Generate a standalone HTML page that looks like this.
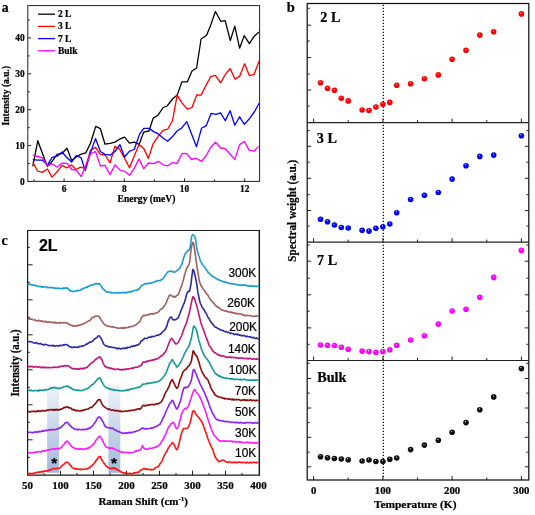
<!DOCTYPE html><html><head><meta charset="utf-8"><style>html,body{margin:0;padding:0;background:#fff;width:535px;height:515px;overflow:hidden}svg{display:block}svg text{stroke:#000;stroke-width:0.22px}</style></head><body>
<svg width="535" height="515" viewBox="0 0 535 515">
<rect width="535" height="515" fill="#fff"/>
<defs>
<radialGradient id="gr" cx="0.5" cy="0.5" r="0.6" fx="0.4" fy="0.3"><stop offset="0" stop-color="#ffffff"/><stop offset="0.28" stop-color="#ff0000"/><stop offset="0.7" stop-color="#ff0000"/><stop offset="1" stop-color="#c80000"/></radialGradient>
<radialGradient id="gb" cx="0.5" cy="0.5" r="0.6" fx="0.4" fy="0.3"><stop offset="0" stop-color="#ffffff"/><stop offset="0.28" stop-color="#0000ff"/><stop offset="0.7" stop-color="#0000ff"/><stop offset="1" stop-color="#0000b0"/></radialGradient>
<radialGradient id="gm" cx="0.5" cy="0.5" r="0.6" fx="0.4" fy="0.3"><stop offset="0" stop-color="#ffffff"/><stop offset="0.28" stop-color="#ff00ff"/><stop offset="0.7" stop-color="#ff00ff"/><stop offset="1" stop-color="#c000c0"/></radialGradient>
<radialGradient id="gk" cx="0.5" cy="0.5" r="0.6" fx="0.4" fy="0.3"><stop offset="0" stop-color="#ffffff"/><stop offset="0.28" stop-color="#101010"/><stop offset="0.7" stop-color="#101010"/><stop offset="1" stop-color="#000000"/></radialGradient>
<linearGradient id="band" x1="0" y1="0" x2="0" y2="1"><stop offset="0" stop-color="#eef3fa"/><stop offset="0.45" stop-color="#ccd8eb"/><stop offset="1" stop-color="#a2b7d9"/></linearGradient>
</defs>
<g fill="none" stroke-linejoin="round">
<polyline points="32.8,166.4 37.8,140.7 42.5,153.5 47.4,166.6 52.0,161.4 57.1,154.4 62.0,153.5 67.0,148.3 71.6,160.2 76.0,157.3 80.6,154.4 85.8,152.9 90.5,143.3 95.7,126.4 100.4,128.7 105.0,144.2 110.0,143.3 115.0,142.1 119.6,139.2 124.6,137.2 129.5,143.1 134.2,142.1 139.1,144.4 143.7,132.1 149.0,131.0 153.1,118.4 157.8,115.3 163.2,107.5 167.1,106.0 172.5,99.0 177.2,95.1 181.9,81.9 187.3,81.9 192.0,71.0 196.6,68.0 201.1,39.0 206.6,35.2 210.6,25.4 215.4,11.5 220.8,21.3 225.2,20.6 230.3,40.6 234.8,26.1 239.6,48.2 244.2,35.6 249.4,43.7 254.1,36.3 259.1,31.9" stroke="#000" stroke-width="1.3"/>
<polyline points="32.8,162.2 37.5,171.0 42.1,172.4 47.4,169.0 52.0,177.1 57.1,171.8 62.0,165.4 67.0,167.8 71.6,164.9 76.0,169.5 80.6,167.2 85.2,168.7 90.5,150.3 95.5,147.4 100.4,154.4 105.0,155.0 110.0,162.9 115.0,146.2 119.6,149.1 124.6,158.4 129.5,167.8 134.2,156.1 139.1,144.4 143.7,148.4 148.4,158.4 153.1,143.8 158.3,136.2 163.0,130.4 167.6,129.2 172.5,120.7 177.2,95.1 181.9,102.9 187.3,109.1 192.0,107.5 196.8,94.8 201.1,95.1 205.9,85.6 210.6,76.7 215.4,75.4 220.6,82.9 225.2,74.7 230.1,68.6 235.1,79.2 239.8,76.1 244.6,63.8 249.4,75.7 254.1,74.3 259.1,61.1" stroke="#ff0000" stroke-width="1.3"/>
<polyline points="32.8,159.6 37.5,160.2 42.7,160.2 47.4,165.4 52.0,157.3 57.1,156.2 62.0,152.0 66.6,157.3 71.6,162.0 76.5,155.5 81.2,157.9 85.2,170.7 90.5,152.6 95.5,138.6 100.4,151.5 105.0,154.4 110.0,155.2 115.0,151.5 120.0,144.7 124.6,157.0 129.5,151.2 134.2,149.5 139.7,133.9 143.7,128.4 149.0,128.4 153.6,131.6 158.3,133.9 163.0,138.0 167.6,141.2 172.3,136.8 177.0,131.0 181.6,128.1 186.8,121.7 190.8,132.0 196.5,146.7 201.5,128.3 206.3,125.6 211.1,113.4 215.8,114.3 220.6,113.0 225.3,120.6 230.1,110.7 234.8,125.2 239.6,116.8 244.3,124.3 249.8,118.2 254.6,111.5 259.1,103.2" stroke="#0000ff" stroke-width="1.3"/>
<polyline points="32.8,155.2 37.5,156.5 42.7,157.9 47.4,166.0 52.0,163.7 57.1,167.2 62.0,163.1 67.0,163.3 71.6,169.5 76.0,170.1 81.2,176.5 85.5,166.0 90.5,153.8 95.5,151.5 100.4,166.0 105.0,165.4 110.0,174.8 115.0,164.9 120.0,170.1 124.6,171.3 129.5,175.3 134.2,168.4 139.1,158.9 143.7,168.8 148.4,163.0 153.6,163.6 158.3,161.3 163.0,164.8 167.6,165.9 172.3,162.4 177.0,163.6 182.2,153.3 186.8,153.7 191.5,159.5 196.1,158.2 201.5,161.4 206.3,155.5 210.4,147.8 215.5,142.3 220.6,148.0 225.3,148.7 230.1,154.2 234.8,159.6 239.6,144.6 244.3,141.5 249.1,150.1 253.9,151.2 258.6,146.4" stroke="#ff00ff" stroke-width="1.3"/>
</g>
<rect x="27.8" y="5.6" width="231.8" height="175.8" fill="none" stroke="#222" stroke-width="1"/>
<path d="M27.8 181.5h3.3M27.8 163.6h2.0M27.8 145.6h3.3M27.8 127.7h2.0M27.8 109.7h3.3M27.8 91.8h2.0M27.8 73.8h3.3M27.8 55.9h2.0M27.8 37.9h3.3M27.8 20.0h2.0M34.0 181.4v-2.0M64.1 181.4v-3.0M94.2 181.4v-2.0M124.3 181.4v-3.0M154.4 181.4v-2.0M184.5 181.4v-3.0M214.6 181.4v-2.0M244.7 181.4v-3.0" stroke="#222" stroke-width="1" fill="none"/>
<line x1="38.1" x2="55" y1="14.2" y2="14.2" stroke="#000" stroke-width="1.3"/>
<text x="57.9" y="17.2" font-family="'Liberation Serif','Times New Roman',serif" font-weight="bold" font-size="9.5" fill="#000">2 L</text>
<line x1="38.1" x2="55" y1="26.4" y2="26.4" stroke="#ff0000" stroke-width="1.3"/>
<text x="57.9" y="29.4" font-family="'Liberation Serif','Times New Roman',serif" font-weight="bold" font-size="9.5" fill="#000">3 L</text>
<line x1="38.1" x2="55" y1="38.6" y2="38.6" stroke="#0000ff" stroke-width="1.3"/>
<text x="57.9" y="41.6" font-family="'Liberation Serif','Times New Roman',serif" font-weight="bold" font-size="9.5" fill="#000">7 L</text>
<line x1="38.1" x2="55" y1="50.8" y2="50.8" stroke="#ff00ff" stroke-width="1.3"/>
<text x="57.9" y="53.8" font-family="'Liberation Serif','Times New Roman',serif" font-weight="bold" font-size="9.5" fill="#000">Bulk</text>
<text x="24.6" y="184.6" text-anchor="end" font-family="'Liberation Serif','Times New Roman',serif" font-weight="bold" font-size="9.4">0</text>
<text x="24.6" y="148.7" text-anchor="end" font-family="'Liberation Serif','Times New Roman',serif" font-weight="bold" font-size="9.4">10</text>
<text x="24.6" y="112.8" text-anchor="end" font-family="'Liberation Serif','Times New Roman',serif" font-weight="bold" font-size="9.4">20</text>
<text x="24.6" y="76.9" text-anchor="end" font-family="'Liberation Serif','Times New Roman',serif" font-weight="bold" font-size="9.4">30</text>
<text x="24.6" y="41.0" text-anchor="end" font-family="'Liberation Serif','Times New Roman',serif" font-weight="bold" font-size="9.4">40</text>
<text x="64.1" y="191.6" text-anchor="middle" font-family="'Liberation Serif','Times New Roman',serif" font-weight="bold" font-size="9.4">6</text>
<text x="124.3" y="191.6" text-anchor="middle" font-family="'Liberation Serif','Times New Roman',serif" font-weight="bold" font-size="9.4">8</text>
<text x="184.5" y="191.6" text-anchor="middle" font-family="'Liberation Serif','Times New Roman',serif" font-weight="bold" font-size="9.4">10</text>
<text x="244.7" y="191.6" text-anchor="middle" font-family="'Liberation Serif','Times New Roman',serif" font-weight="bold" font-size="9.4">12</text>
<text x="146.5" y="202.2" text-anchor="middle" font-family="'Liberation Serif','Times New Roman',serif" font-weight="bold" font-size="9.6">Energy (meV)</text>
<text transform="translate(8.9,95.7) rotate(-90)" x="-29.8" textLength="59.6" lengthAdjust="spacingAndGlyphs" font-family="'Liberation Serif','Times New Roman',serif" font-weight="bold" font-size="10.1">Intensity (a.u.)</text>
<text transform="translate(1.7,11.6) scale(0.98,1.11)" font-family="'Liberation Serif','Times New Roman',serif" font-weight="bold" font-size="14">a</text>
<line x1="383.3" x2="383.3" y1="4.8" y2="479" stroke="#000" stroke-width="1.2" stroke-dasharray="1.2 1.8"/>
<path d="M307.2 8.3h2.5M307.2 25.2h4.0M307.2 41.0h2.5M307.2 57.5h4.0M307.2 74.0h2.5M307.2 90.0h4.0M307.2 106.0h2.5M313.6 122.6v-4.0M348.2 122.6v-2.5M382.9 122.6v-4.0M417.5 122.6v-2.5M452.1 122.6v-4.0M486.8 122.6v-2.5M521.4 122.6v-4.0M307.2 130.6h2.5M528.8 130.6h-2.5M307.2 146.3h4.0M528.8 146.3h-4.0M307.2 162.2h2.5M528.8 162.2h-2.5M307.2 178.3h4.0M528.8 178.3h-4.0M307.2 194.7h2.5M528.8 194.7h-2.5M307.2 210.6h4.0M528.8 210.6h-4.0M307.2 226.0h2.5M528.8 226.0h-2.5M313.6 242.1v-4.0M348.2 242.1v-2.5M382.9 242.1v-4.0M417.5 242.1v-2.5M452.1 242.1v-4.0M486.8 242.1v-2.5M521.4 242.1v-4.0M307.2 245.0h2.5M528.8 245.0h-2.5M307.2 261.2h4.0M528.8 261.2h-4.0M307.2 278.2h2.5M528.8 278.2h-2.5M307.2 294.8h4.0M528.8 294.8h-4.0M307.2 311.2h2.5M528.8 311.2h-2.5M307.2 327.9h4.0M528.8 327.9h-4.0M307.2 344.3h2.5M528.8 344.3h-2.5M313.6 360.5v-4.0M348.2 360.5v-2.5M382.9 360.5v-4.0M417.5 360.5v-2.5M452.1 360.5v-4.0M486.8 360.5v-2.5M521.4 360.5v-4.0M307.2 363.3h2.5M528.8 363.3h-2.5M307.2 378.5h4.0M528.8 378.5h-4.0M307.2 393.1h2.5M528.8 393.1h-2.5M307.2 408.0h4.0M528.8 408.0h-4.0M307.2 422.6h2.5M528.8 422.6h-2.5M307.2 437.3h4.0M528.8 437.3h-4.0M307.2 452.2h2.5M528.8 452.2h-2.5M307.2 466.8h4.0M528.8 466.8h-4.0M313.6 480.0v-4.0M348.2 480.0v-2.5M382.9 480.0v-4.0M417.5 480.0v-2.5M452.1 480.0v-4.0M486.8 480.0v-2.5M521.4 480.0v-4.0" stroke="#222" stroke-width="1" fill="none"/>
<rect x="307.2" y="3.5" width="221.6" height="476.5" fill="none" stroke="#111" stroke-width="1.25"/>
<line x1="307.2" x2="528.8" y1="122.6" y2="122.6" stroke="#222" stroke-width="1.05"/>
<line x1="307.2" x2="528.8" y1="242.1" y2="242.1" stroke="#222" stroke-width="1.05"/>
<line x1="307.2" x2="528.8" y1="360.5" y2="360.5" stroke="#222" stroke-width="1.05"/>
<circle cx="320.5" cy="82.8" r="2.8" fill="url(#gr)"/>
<circle cx="327.5" cy="88.3" r="2.8" fill="url(#gr)"/>
<circle cx="334.4" cy="90.3" r="2.8" fill="url(#gr)"/>
<circle cx="341.3" cy="98.2" r="2.8" fill="url(#gr)"/>
<circle cx="348.2" cy="100.9" r="2.8" fill="url(#gr)"/>
<circle cx="362.1" cy="110.0" r="2.8" fill="url(#gr)"/>
<circle cx="369.0" cy="110.5" r="2.8" fill="url(#gr)"/>
<circle cx="375.9" cy="107.0" r="2.8" fill="url(#gr)"/>
<circle cx="382.9" cy="104.2" r="2.8" fill="url(#gr)"/>
<circle cx="389.8" cy="102.4" r="2.8" fill="url(#gr)"/>
<circle cx="396.7" cy="85.3" r="2.8" fill="url(#gr)"/>
<circle cx="410.6" cy="83.8" r="2.8" fill="url(#gr)"/>
<circle cx="424.4" cy="78.7" r="2.8" fill="url(#gr)"/>
<circle cx="438.3" cy="74.9" r="2.8" fill="url(#gr)"/>
<circle cx="452.1" cy="59.3" r="2.8" fill="url(#gr)"/>
<circle cx="466.0" cy="50.2" r="2.8" fill="url(#gr)"/>
<circle cx="479.8" cy="35.1" r="2.8" fill="url(#gr)"/>
<circle cx="493.7" cy="31.8" r="2.8" fill="url(#gr)"/>
<circle cx="521.4" cy="13.9" r="2.8" fill="url(#gr)"/>
<circle cx="320.5" cy="219.2" r="2.8" fill="url(#gb)"/>
<circle cx="327.5" cy="221.7" r="2.8" fill="url(#gb)"/>
<circle cx="334.4" cy="225.0" r="2.8" fill="url(#gb)"/>
<circle cx="341.3" cy="227.5" r="2.8" fill="url(#gb)"/>
<circle cx="348.2" cy="228.0" r="2.8" fill="url(#gb)"/>
<circle cx="362.1" cy="230.3" r="2.8" fill="url(#gb)"/>
<circle cx="369.0" cy="231.1" r="2.8" fill="url(#gb)"/>
<circle cx="375.9" cy="228.3" r="2.8" fill="url(#gb)"/>
<circle cx="382.9" cy="226.8" r="2.8" fill="url(#gb)"/>
<circle cx="389.8" cy="224.0" r="2.8" fill="url(#gb)"/>
<circle cx="396.7" cy="212.7" r="2.8" fill="url(#gb)"/>
<circle cx="410.6" cy="199.5" r="2.8" fill="url(#gb)"/>
<circle cx="424.4" cy="195.2" r="2.8" fill="url(#gb)"/>
<circle cx="438.3" cy="192.5" r="2.8" fill="url(#gb)"/>
<circle cx="452.1" cy="179.1" r="2.8" fill="url(#gb)"/>
<circle cx="466.0" cy="165.7" r="2.8" fill="url(#gb)"/>
<circle cx="479.8" cy="156.4" r="2.8" fill="url(#gb)"/>
<circle cx="493.7" cy="155.1" r="2.8" fill="url(#gb)"/>
<circle cx="521.4" cy="135.7" r="2.8" fill="url(#gb)"/>
<circle cx="320.5" cy="345.0" r="2.8" fill="url(#gm)"/>
<circle cx="327.5" cy="345.3" r="2.8" fill="url(#gm)"/>
<circle cx="334.4" cy="345.5" r="2.8" fill="url(#gm)"/>
<circle cx="341.3" cy="347.3" r="2.8" fill="url(#gm)"/>
<circle cx="348.2" cy="349.3" r="2.8" fill="url(#gm)"/>
<circle cx="362.1" cy="351.1" r="2.8" fill="url(#gm)"/>
<circle cx="369.0" cy="351.6" r="2.8" fill="url(#gm)"/>
<circle cx="375.9" cy="352.3" r="2.8" fill="url(#gm)"/>
<circle cx="382.9" cy="351.6" r="2.8" fill="url(#gm)"/>
<circle cx="389.8" cy="349.8" r="2.8" fill="url(#gm)"/>
<circle cx="396.7" cy="345.3" r="2.8" fill="url(#gm)"/>
<circle cx="410.6" cy="340.0" r="2.8" fill="url(#gm)"/>
<circle cx="424.4" cy="335.7" r="2.8" fill="url(#gm)"/>
<circle cx="438.3" cy="324.1" r="2.8" fill="url(#gm)"/>
<circle cx="452.1" cy="311.0" r="2.8" fill="url(#gm)"/>
<circle cx="466.0" cy="309.2" r="2.8" fill="url(#gm)"/>
<circle cx="479.8" cy="297.3" r="2.8" fill="url(#gm)"/>
<circle cx="493.7" cy="277.4" r="2.8" fill="url(#gm)"/>
<circle cx="521.4" cy="250.4" r="2.8" fill="url(#gm)"/>
<circle cx="320.5" cy="456.7" r="2.8" fill="url(#gk)"/>
<circle cx="327.5" cy="457.7" r="2.8" fill="url(#gk)"/>
<circle cx="334.4" cy="458.5" r="2.8" fill="url(#gk)"/>
<circle cx="341.3" cy="459.0" r="2.8" fill="url(#gk)"/>
<circle cx="348.2" cy="459.7" r="2.8" fill="url(#gk)"/>
<circle cx="362.1" cy="461.0" r="2.8" fill="url(#gk)"/>
<circle cx="369.0" cy="460.0" r="2.8" fill="url(#gk)"/>
<circle cx="375.9" cy="461.5" r="2.8" fill="url(#gk)"/>
<circle cx="382.9" cy="461.5" r="2.8" fill="url(#gk)"/>
<circle cx="389.8" cy="459.2" r="2.8" fill="url(#gk)"/>
<circle cx="396.7" cy="458.0" r="2.8" fill="url(#gk)"/>
<circle cx="410.6" cy="449.6" r="2.8" fill="url(#gk)"/>
<circle cx="424.4" cy="445.1" r="2.8" fill="url(#gk)"/>
<circle cx="438.3" cy="440.3" r="2.8" fill="url(#gk)"/>
<circle cx="452.1" cy="432.2" r="2.8" fill="url(#gk)"/>
<circle cx="466.0" cy="422.6" r="2.8" fill="url(#gk)"/>
<circle cx="479.8" cy="409.8" r="2.8" fill="url(#gk)"/>
<circle cx="493.7" cy="396.9" r="2.8" fill="url(#gk)"/>
<circle cx="521.4" cy="368.6" r="2.8" fill="url(#gk)"/>
<g font-family="'Liberation Serif','Times New Roman',serif" font-weight="bold" font-size="14.2" fill="#000">
<text x="320.3" y="21.6">2 L</text>
<text x="316.8" y="142.8">3 L</text>
<text x="317.1" y="264.7">7 L</text>
<text x="317.2" y="381.8">Bulk</text>
</g>
<text x="313.6" y="493.5" text-anchor="middle" font-family="'Liberation Serif','Times New Roman',serif" font-weight="bold" font-size="10.8">0</text>
<text x="382.9" y="493.5" text-anchor="middle" font-family="'Liberation Serif','Times New Roman',serif" font-weight="bold" font-size="10.8">100</text>
<text x="452.1" y="493.5" text-anchor="middle" font-family="'Liberation Serif','Times New Roman',serif" font-weight="bold" font-size="10.8">200</text>
<text x="521.4" y="493.5" text-anchor="middle" font-family="'Liberation Serif','Times New Roman',serif" font-weight="bold" font-size="10.8">300</text>
<text x="415.2" y="508.4" text-anchor="middle" font-family="'Liberation Serif','Times New Roman',serif" font-weight="bold" font-size="11.4">Temperature (K)</text>
<text transform="translate(296.1,210.7) rotate(-90)" x="-51" textLength="102" lengthAdjust="spacingAndGlyphs" font-family="'Liberation Serif','Times New Roman',serif" font-weight="bold" font-size="12.8">Spectral weight (a.u.)</text>
<text transform="translate(286.8,11.5) scale(1,1.07)" font-family="'Liberation Serif','Times New Roman',serif" font-weight="bold" font-size="14.5">b</text>
<rect x="47.1" y="385.3" width="11.9" height="87.5" fill="url(#band)"/>
<rect x="108.4" y="385.3" width="11.9" height="87.5" fill="url(#band)"/>
<path d="M27.6 230.5H259.4V475.2H27.6Z" fill="none" stroke="#1a1a1a" stroke-width="1.2"/>
<line x1="259.4" x2="259.4" y1="230.5" y2="475.2" stroke="#1a1a1a" stroke-width="1.3"/>
<path d="M27.6 457.3h2.3M27.6 439.8h5.0M27.6 422.3h2.3M27.6 404.8h5.0M27.6 387.3h2.3M27.6 369.8h5.0M27.6 352.3h2.3M27.6 334.8h5.0M27.6 317.3h2.3M27.6 299.8h5.0M27.6 282.3h2.3M27.6 264.8h5.0M27.6 247.3h2.3M44.0 475.2v-2.3M60.5 475.2v-4.5M77.0 475.2v-2.3M93.5 475.2v-4.5M110.0 475.2v-2.3M126.5 475.2v-4.5M143.0 475.2v-2.3M159.5 475.2v-4.5M176.0 475.2v-2.3M192.5 475.2v-4.5M209.0 475.2v-2.3M225.5 475.2v-4.5M242.0 475.2v-2.3" stroke="#222" stroke-width="1" fill="none"/>
<defs><clipPath id="cc"><rect x="27.6" y="230.5" width="231.8" height="244.7"/></clipPath></defs>
<g fill="none" stroke-width="1.6" stroke-linejoin="round" clip-path="url(#cc)">
<polyline stroke="#1a9cd0" points="27.0,283.8 27.4,283.8 27.9,284.3 28.4,283.9 29.0,284.5 29.7,284.4 30.4,284.3 31.2,284.9 32.0,284.6 32.8,285.1 33.6,285.0 34.4,285.2 35.2,285.6 36.0,286.1 36.8,285.6 37.5,285.9 38.2,286.3 39.0,286.7 39.7,286.5 40.5,286.5 41.2,287.1 42.0,286.4 42.7,287.2 43.4,286.8 44.2,286.8 44.9,286.8 45.7,287.1 46.4,287.6 47.2,287.1 47.9,287.6 48.6,287.7 49.3,287.5 50.0,287.8 50.7,287.4 51.5,287.4 52.2,287.6 52.9,288.1 53.6,287.9 54.3,287.9 55.0,288.2 55.7,288.1 56.4,288.0 57.1,288.5 57.8,288.5 58.4,288.1 59.2,288.4 60.0,288.4 60.9,288.7 61.7,288.5 62.5,288.1 63.3,288.7 64.1,287.9 64.8,288.2 65.5,288.5 66.1,287.9 66.6,288.3 67.1,287.9 68.3,288.9 68.9,289.7 69.4,289.9 70.0,290.7 70.7,290.6 71.4,291.3 72.4,291.4 73.0,291.4 73.6,291.2 74.2,291.5 75.0,291.5 75.7,291.0 76.4,291.0 77.2,290.3 78.0,290.7 78.7,290.4 79.4,290.5 80.2,290.2 81.0,289.4 81.8,289.2 82.5,289.2 83.3,288.3 84.1,288.4 84.8,287.8 85.6,287.5 86.3,287.1 87.1,287.4 87.8,286.5 88.5,286.2 89.2,286.0 89.9,286.0 90.6,285.0 91.3,285.0 92.0,284.8 92.8,284.9 93.6,284.6 94.4,284.4 95.2,283.7 96.1,283.7 96.8,283.5 97.5,283.9 98.1,284.0 99.2,283.6 99.8,284.4 100.7,285.5 101.3,286.2 101.9,287.3 102.6,288.4 103.3,289.1 104.1,289.7 105.1,290.8 105.7,291.1 106.3,291.5 106.9,292.1 107.6,292.0 108.3,292.0 109.0,292.3 109.8,292.5 110.6,292.0 111.4,292.9 112.2,292.9 113.0,293.0 113.7,293.0 114.4,292.7 115.1,292.8 115.8,292.6 116.5,293.1 117.3,292.7 118.0,292.7 118.8,292.9 119.6,292.8 120.3,293.0 121.1,292.7 121.9,292.6 122.6,292.7 123.4,292.6 124.1,292.8 124.8,292.4 125.6,293.1 126.3,292.7 127.1,292.2 127.8,292.1 128.6,292.0 129.3,291.9 130.1,291.5 130.8,292.0 131.5,292.0 132.1,291.3 132.8,291.2 133.4,290.7 133.9,290.5 134.9,290.5 135.8,290.2 136.6,290.4 137.3,289.6 137.9,289.2 138.5,289.7 139.1,288.9 139.9,287.9 140.5,287.3 141.0,285.9 141.7,285.5 142.6,285.2 143.2,284.9 143.8,284.5 144.4,283.9 145.1,283.8 145.9,283.5 146.6,283.9 147.4,283.6 148.1,283.7 148.9,283.1 149.6,282.9 150.3,283.2 151.0,283.2 151.8,282.9 152.5,282.6 153.3,282.4 154.0,282.2 154.7,281.5 155.4,281.6 156.0,281.3 156.6,280.9 157.6,280.6 158.4,280.7 159.1,280.6 159.8,280.7 160.5,280.6 161.3,279.6 162.1,279.5 162.9,278.8 163.6,278.0 164.4,276.7 165.1,275.6 165.9,274.5 166.6,273.4 167.3,272.4 167.9,272.0 168.8,271.6 169.6,271.3 170.5,271.0 171.1,271.2 171.8,271.6 172.6,271.3 173.3,272.0 174.0,272.3 174.7,272.0 175.4,271.8 176.1,271.2 176.8,270.5 177.5,270.5 178.2,269.4 178.9,269.1 179.7,268.4 180.3,266.9 181.0,265.7 181.8,264.4 182.5,262.1 183.2,259.5 183.8,257.6 184.9,254.5 185.9,252.9 186.7,251.9 187.5,250.8 188.3,250.7 189.4,249.3 190.3,246.5 191.7,236.1 192.8,234.6 193.8,235.1 194.7,236.4 195.7,240.0 196.8,248.5 197.6,251.5 198.5,254.9 199.3,257.1 200.2,260.3 201.2,262.8 201.9,263.5 202.7,264.7 203.5,265.8 204.3,266.7 205.0,268.0 205.9,269.0 206.7,270.3 207.5,271.2 208.2,272.6 208.9,272.9 209.7,273.7 210.6,274.6 211.2,275.4 211.8,275.5 212.5,276.5 213.2,276.7 213.9,277.3 214.7,277.8 215.5,277.9 216.1,278.6 216.7,278.7 217.4,278.8 218.1,279.9 218.8,279.6 219.5,280.2 220.2,280.7 221.0,280.8 221.7,280.9 222.5,281.3 223.2,281.6 223.9,282.0 224.6,281.6 225.3,282.2 226.0,282.1 226.7,282.4 227.5,283.0 228.2,282.9 229.0,283.2 229.7,283.5 230.5,283.8 231.2,283.5 231.9,283.8 232.6,283.9 233.4,284.0 234.1,284.3 234.8,284.1 235.5,284.3 236.3,284.4 237.0,284.9 237.7,284.7 238.4,285.0 239.2,285.1 239.9,284.6 240.6,284.9 241.3,285.4 242.1,285.4 242.8,284.8 243.5,284.9 244.2,285.3 245.0,285.1 245.7,285.3 246.4,285.2 247.2,285.8 247.9,286.0 248.7,286.2 249.4,285.5 250.1,286.1 250.9,286.1 251.7,285.6 252.5,286.3 253.3,286.5 254.1,285.8 254.9,286.5 255.7,286.0 256.4,286.1 257.0,286.6 257.6,286.5 258.1,285.9 258.5,286.1"/>
<polyline stroke="#a0605c" points="27.0,318.5 27.4,318.4 27.9,318.4 28.4,318.6 29.0,319.1 29.7,318.6 30.4,319.3 31.2,319.3 32.0,319.1 32.8,319.6 33.6,320.0 34.4,320.0 35.2,319.8 36.0,320.8 36.8,320.7 37.5,321.0 38.2,320.4 39.0,320.6 39.7,320.5 40.5,321.3 41.2,321.0 42.0,320.9 42.7,321.3 43.4,321.8 44.2,321.9 44.9,321.4 45.7,321.4 46.4,322.2 47.2,322.0 47.9,322.2 48.6,321.7 49.3,321.8 50.0,322.4 50.7,322.2 51.5,322.0 52.2,322.8 52.9,322.6 53.6,322.8 54.3,322.2 55.0,323.0 55.7,322.3 56.4,323.1 57.1,322.8 57.8,322.7 58.4,322.9 59.2,323.3 60.0,322.8 60.8,322.6 61.6,323.0 62.4,322.7 63.2,322.6 63.9,322.7 64.7,322.6 65.3,322.7 66.0,322.9 66.6,322.9 67.1,323.4 68.1,323.4 68.8,324.1 69.3,324.3 69.9,325.0 70.6,325.1 71.2,325.5 71.9,325.4 72.7,326.1 73.4,326.0 74.2,325.7 75.0,326.0 75.9,326.3 76.5,325.4 77.2,325.9 77.9,325.4 78.6,325.3 79.3,325.4 80.0,324.7 80.8,324.6 81.5,324.5 82.2,324.5 82.9,323.7 83.7,323.8 84.5,323.4 85.3,322.9 86.2,322.4 87.0,322.0 87.8,321.3 88.5,321.0 89.2,320.6 89.8,320.8 90.8,319.5 91.5,318.4 92.2,317.4 93.0,317.4 93.7,317.1 94.4,316.7 95.2,316.2 96.0,316.0 96.8,316.0 97.5,316.2 98.1,316.0 99.1,316.7 99.8,317.4 100.7,319.3 101.3,320.2 101.9,320.9 102.6,321.7 103.3,323.5 104.1,324.0 105.1,324.9 105.7,324.9 106.3,325.6 106.9,325.9 107.6,326.2 108.3,326.1 109.0,326.6 109.8,326.3 110.6,326.7 111.4,326.7 112.2,327.1 113.0,326.9 113.7,327.0 114.4,327.3 115.1,327.4 115.8,327.8 116.5,327.8 117.3,328.1 118.0,328.1 118.8,328.2 119.6,328.4 120.3,328.0 121.1,327.9 121.9,328.5 122.6,327.7 123.4,328.2 124.1,328.1 124.8,327.4 125.6,328.0 126.3,327.9 127.1,327.5 127.8,327.5 128.6,327.4 129.3,326.6 130.1,326.7 130.8,326.5 131.5,326.6 132.1,326.4 132.8,326.2 133.4,325.8 133.9,325.9 134.9,325.3 135.8,324.9 136.6,324.1 137.3,323.5 137.9,323.2 138.5,322.9 139.1,322.0 139.9,321.6 140.5,320.0 141.0,318.7 141.7,317.4 142.6,316.5 143.2,315.9 143.8,315.2 144.4,315.7 145.1,315.5 145.9,315.1 146.6,315.0 147.4,315.0 148.1,314.4 148.9,314.9 149.6,314.3 150.3,313.9 151.1,314.0 151.8,314.2 152.6,313.6 153.3,313.9 154.1,314.0 154.8,313.4 155.4,313.1 156.0,313.0 156.6,313.0 157.7,312.5 158.4,311.9 159.1,311.3 160.0,309.9 160.7,309.4 161.4,308.8 162.2,308.6 163.1,307.4 163.8,306.9 164.6,305.5 165.2,304.7 166.3,302.5 167.1,300.4 167.9,298.3 168.7,296.8 169.4,295.4 170.1,295.0 171.1,295.5 172.2,296.4 172.8,296.2 173.5,297.0 174.3,296.4 175.0,297.1 175.7,296.8 176.5,295.6 177.2,295.4 178.0,294.8 178.8,293.5 179.5,291.4 180.3,289.1 181.2,286.7 182.0,285.0 182.7,281.9 183.6,279.2 184.4,275.5 185.2,272.9 185.8,270.9 186.6,268.2 187.3,267.7 188.1,265.9 189.0,264.6 189.7,262.2 190.8,251.8 191.6,246.4 192.7,242.2 193.6,243.1 194.5,248.6 195.4,255.3 196.3,262.0 197.4,269.6 198.4,275.5 199.4,281.3 200.3,283.9 201.3,286.1 202.0,286.6 202.8,288.4 203.6,289.5 204.6,290.4 205.6,292.6 206.4,293.4 207.2,294.7 207.9,295.2 208.6,296.6 209.8,298.4 210.3,299.6 210.9,300.1 211.6,300.8 212.3,301.8 213.1,302.6 213.9,303.4 214.7,304.3 215.5,305.7 216.1,305.8 216.8,306.9 217.5,306.7 218.1,307.2 218.8,307.9 219.5,308.0 220.2,308.6 221.0,309.5 221.7,309.8 222.5,310.1 223.2,310.2 223.9,310.7 224.6,311.0 225.3,310.9 226.0,311.3 226.7,310.9 227.5,311.7 228.2,311.6 229.0,312.1 229.7,312.2 230.5,312.0 231.2,312.0 231.9,313.0 232.6,312.4 233.4,312.9 234.1,312.9 234.8,313.0 235.5,313.5 236.3,313.9 237.0,313.3 237.7,313.8 238.4,313.6 239.2,314.0 239.9,314.0 240.6,314.0 241.3,314.1 242.1,314.3 242.8,315.1 243.5,314.9 244.2,314.8 245.0,315.6 245.7,315.9 246.4,315.5 247.2,315.4 247.9,315.5 248.7,315.5 249.4,315.8 250.1,315.7 250.9,315.8 251.7,315.9 252.5,316.2 253.3,316.5 254.1,316.4 254.9,316.1 255.7,316.1 256.4,316.2 257.0,316.1 257.6,316.0 258.1,315.8 258.5,316.0"/>
<polyline stroke="#2c2c9c" points="27.0,341.6 27.4,340.9 27.9,341.4 28.4,341.6 29.0,341.9 29.7,341.5 30.4,341.7 31.2,341.8 32.0,342.1 32.8,342.3 33.6,343.0 34.4,343.0 35.2,343.2 36.0,342.6 36.8,342.7 37.5,343.5 38.2,343.8 39.0,343.6 39.7,343.8 40.5,343.4 41.2,343.9 42.0,344.5 42.7,344.6 43.4,344.7 44.2,345.0 44.9,344.4 45.7,344.4 46.4,344.6 47.2,345.0 47.9,345.3 48.6,345.6 49.3,345.5 50.0,345.5 50.7,345.7 51.5,345.5 52.2,345.6 52.9,345.2 53.6,346.0 54.3,345.5 55.0,346.2 55.7,346.0 56.4,345.7 57.1,345.6 57.8,345.7 58.4,346.0 59.2,346.0 60.0,345.4 60.8,345.3 61.7,345.5 62.5,345.4 63.2,345.1 64.0,344.8 64.7,345.0 65.4,344.4 66.0,344.6 66.6,344.7 67.1,345.1 68.3,345.3 68.9,346.4 69.8,346.8 70.4,346.7 71.1,346.9 71.8,347.6 72.6,347.5 73.4,347.1 74.2,346.9 75.1,347.3 75.9,347.5 76.6,347.2 77.2,347.0 77.9,347.2 78.6,347.4 79.4,346.6 80.1,346.3 80.8,346.4 81.5,346.3 82.2,346.3 82.9,345.6 83.7,345.9 84.5,345.4 85.4,344.8 86.2,344.1 87.0,344.3 87.8,343.3 88.6,343.4 89.2,342.5 89.8,342.1 90.9,342.1 91.5,341.5 92.5,341.4 93.1,340.6 93.8,339.7 94.5,339.0 95.3,338.5 96.2,338.0 97.0,337.6 97.7,336.3 98.4,336.1 99.0,335.7 100.1,337.0 100.8,337.8 101.6,339.4 102.2,340.4 102.7,341.8 103.3,343.5 104.1,344.5 105.1,345.3 105.6,345.9 106.2,346.1 106.9,345.9 107.5,346.0 108.3,347.0 109.0,347.0 109.8,346.6 110.5,347.3 111.4,347.3 112.2,347.4 113.0,347.5 113.7,347.5 114.4,347.5 115.1,347.9 115.8,348.0 116.5,348.7 117.3,348.0 118.0,348.8 118.8,348.2 119.6,348.4 120.3,348.9 121.1,348.9 121.9,348.5 122.6,348.1 123.4,348.5 124.1,348.3 124.8,348.7 125.6,347.9 126.3,347.9 127.1,348.2 127.8,347.2 128.6,347.4 129.3,347.5 130.1,347.3 130.8,346.4 131.5,346.2 132.1,346.0 132.8,346.6 133.4,345.8 133.9,346.1 134.9,346.0 135.8,345.3 136.6,345.0 137.3,345.5 137.9,345.0 138.5,344.4 139.1,344.4 139.9,343.3 140.5,342.3 141.0,341.1 141.7,340.8 142.6,340.2 143.2,339.6 143.8,339.5 144.4,338.4 145.1,338.3 145.9,338.3 146.6,338.5 147.4,338.3 148.1,337.5 148.9,337.2 149.6,337.1 150.3,337.0 151.1,337.2 151.8,336.3 152.6,336.7 153.3,336.5 154.1,336.4 154.8,336.2 155.4,335.9 156.0,335.5 156.6,335.3 157.7,335.2 158.4,335.4 159.1,334.6 160.0,334.1 160.7,334.1 161.4,333.1 162.2,332.3 163.0,331.5 163.8,331.1 164.5,330.0 165.2,329.6 166.0,327.9 166.8,326.2 167.5,323.6 168.1,321.6 168.7,320.1 169.5,318.7 170.1,317.7 170.8,317.0 171.5,317.3 172.2,318.7 173.1,319.7 173.9,319.9 174.8,319.8 175.7,319.6 176.5,319.1 177.4,318.4 178.3,317.9 179.1,315.5 180.0,313.2 181.0,310.4 181.7,309.1 182.5,306.9 183.2,305.2 184.0,303.4 184.6,301.7 185.7,298.3 186.5,294.7 187.3,292.5 188.1,291.4 188.9,291.7 189.7,290.7 190.8,285.1 191.8,277.1 192.8,269.5 193.6,270.1 194.3,272.5 195.3,276.7 196.3,281.7 197.1,286.6 197.8,291.9 198.8,296.7 199.8,301.8 200.5,303.6 201.2,305.0 202.0,306.9 202.7,307.8 203.5,309.3 204.5,310.4 205.1,312.0 205.9,313.0 206.7,314.3 207.5,316.2 208.2,317.8 208.9,318.2 209.8,320.2 210.5,321.4 211.2,322.2 212.0,323.4 212.6,324.0 213.2,324.8 213.8,325.6 214.6,326.6 215.5,327.3 216.1,327.3 216.6,327.5 217.3,328.1 218.0,328.8 218.7,328.7 219.4,329.2 220.2,329.5 220.9,330.3 221.7,330.4 222.5,330.3 223.2,330.6 223.9,331.1 224.6,331.5 225.3,331.8 226.0,331.5 226.7,331.8 227.5,332.5 228.2,332.4 229.0,332.5 229.7,332.8 230.5,333.5 231.2,333.1 231.9,333.5 232.6,333.5 233.4,333.7 234.1,334.3 234.8,334.6 235.5,334.1 236.3,334.1 237.0,334.7 237.7,334.4 238.4,334.4 239.2,335.3 239.9,335.0 240.6,335.5 241.3,335.3 242.1,335.9 242.8,335.6 243.5,335.5 244.2,335.5 245.0,336.1 245.7,336.4 246.4,336.7 247.2,336.1 247.9,336.8 248.7,336.7 249.4,336.9 250.1,336.7 250.9,337.0 251.7,337.4 252.5,337.9 253.3,337.3 254.1,337.8 254.9,338.2 255.7,338.5 256.4,337.9 257.0,338.0 257.6,338.8 258.1,339.0 258.5,338.6"/>
<polyline stroke="#c0187c" points="27.0,365.8 27.4,366.6 27.9,366.2 28.4,366.7 29.0,366.5 29.7,366.7 30.4,366.2 31.2,366.8 32.0,366.4 32.8,366.6 33.6,367.1 34.4,367.2 35.2,366.6 36.0,366.7 36.8,367.0 37.5,367.1 38.2,367.0 39.0,366.9 39.7,367.0 40.5,367.5 41.2,367.7 42.0,367.0 42.7,367.5 43.4,367.7 44.2,367.1 44.9,367.8 45.7,367.2 46.4,367.7 47.2,367.6 47.9,367.7 48.6,367.4 49.3,367.5 50.0,367.7 50.8,367.5 51.5,367.7 52.3,367.5 53.0,367.4 53.7,367.0 54.4,367.5 55.2,367.4 55.8,367.1 56.5,367.5 57.2,367.5 57.8,367.1 58.4,366.8 59.3,367.0 60.1,366.5 60.9,366.4 61.6,366.5 62.3,366.0 63.0,366.2 63.7,366.1 64.3,365.6 64.9,366.0 65.4,365.4 66.3,366.0 67.1,366.0 67.7,365.8 68.3,365.6 68.9,366.2 69.5,366.4 70.1,367.4 70.7,367.2 71.5,368.3 72.4,368.7 73.0,368.6 73.6,368.8 74.2,368.3 75.0,369.1 75.7,368.7 76.4,369.2 77.2,369.2 78.0,368.5 78.7,369.1 79.4,369.2 80.2,368.4 81.0,368.6 81.8,368.9 82.5,368.3 83.3,368.8 84.1,368.1 84.8,368.4 85.6,367.6 86.3,367.6 87.1,367.5 87.8,366.4 88.5,365.9 89.1,365.4 89.8,364.6 90.5,363.6 91.2,363.1 92.0,362.4 92.7,362.5 93.4,361.7 94.1,361.2 94.9,359.8 95.7,359.7 96.5,358.5 97.2,358.3 97.9,357.9 98.5,357.2 99.0,357.4 100.2,357.1 100.8,357.9 101.6,359.5 102.2,360.0 102.7,362.3 103.3,363.6 104.1,364.9 105.1,366.5 105.6,366.4 106.2,367.4 106.9,367.3 107.5,367.4 108.3,368.0 109.0,367.9 109.8,367.9 110.5,368.6 111.4,368.1 112.2,368.9 113.0,368.6 113.7,369.0 114.4,369.5 115.1,369.2 115.8,369.4 116.5,369.2 117.3,369.0 118.0,369.1 118.8,369.3 119.6,369.8 120.3,369.6 121.1,369.7 121.9,370.1 122.6,369.4 123.4,369.5 124.1,369.8 124.8,369.2 125.6,369.1 126.3,369.3 127.1,368.9 127.8,369.0 128.6,368.8 129.3,369.0 130.1,368.8 130.8,368.3 131.5,368.5 132.1,368.3 132.8,367.8 133.4,368.4 133.9,367.7 134.9,367.4 135.9,367.1 136.7,367.3 137.4,367.3 138.0,367.1 138.6,366.5 139.1,366.2 140.1,365.6 140.7,365.8 141.3,365.3 142.7,362.3 143.3,362.2 144.0,361.9 145.0,362.2 145.6,361.9 146.3,361.3 147.0,361.8 147.8,360.9 148.7,361.1 149.6,360.8 150.2,360.5 150.9,360.2 151.6,360.6 152.4,359.7 153.2,360.0 153.9,360.1 154.7,359.2 155.4,359.0 156.0,359.2 156.6,358.9 157.7,358.6 158.4,358.5 159.1,357.5 160.0,356.9 160.7,356.4 161.4,355.5 162.2,355.6 163.0,354.8 163.8,353.9 164.5,352.4 165.2,352.2 166.0,350.7 166.8,348.8 167.4,347.3 168.1,345.4 168.7,343.8 169.7,341.4 170.5,339.6 171.4,338.4 172.3,338.9 173.1,340.5 174.0,341.6 174.8,342.9 175.7,343.9 176.6,343.8 177.2,343.6 177.9,342.6 178.7,341.8 179.4,340.2 180.1,338.6 180.8,337.4 181.5,336.0 182.2,333.6 182.9,332.3 183.6,329.7 184.3,328.0 185.0,326.1 185.8,324.6 186.5,322.8 187.1,320.7 188.1,317.0 189.0,314.2 189.7,310.8 190.8,305.6 191.7,301.1 192.8,296.8 193.8,297.3 194.9,299.9 195.7,302.6 196.6,305.2 197.5,308.9 198.4,312.6 199.4,316.8 200.2,319.9 200.9,323.0 201.9,325.8 202.5,327.2 203.2,329.1 204.0,331.7 204.8,333.4 205.6,336.3 206.3,337.6 207.1,339.6 207.8,341.6 208.6,344.3 209.3,345.5 210.2,346.9 210.9,347.8 211.6,348.8 212.3,350.3 213.0,351.1 213.8,351.9 214.6,352.7 215.5,352.7 216.1,353.6 216.8,353.8 217.4,354.5 218.1,354.9 218.8,355.2 219.5,354.8 220.2,355.7 221.0,356.0 221.7,356.3 222.5,355.7 223.2,356.0 223.9,356.1 224.6,356.2 225.3,357.0 226.0,357.1 226.7,357.1 227.5,357.4 228.2,357.3 229.0,357.1 229.7,357.0 230.5,357.1 231.2,357.7 231.9,357.3 232.6,357.5 233.4,357.6 234.1,357.3 234.8,357.5 235.5,357.6 236.3,358.0 237.0,357.7 237.7,357.7 238.4,358.3 239.2,358.0 239.9,358.3 240.6,358.2 241.3,357.7 242.1,358.1 242.8,358.2 243.5,358.5 244.2,358.2 245.0,358.6 245.7,358.5 246.4,358.3 247.2,358.9 247.9,358.3 248.7,359.0 249.4,358.4 250.1,358.3 250.9,358.6 251.7,359.1 252.5,359.3 253.3,358.5 254.1,359.0 254.9,359.0 255.7,359.3 256.4,358.8 257.0,359.1 257.6,359.0 258.1,359.5 258.5,359.0"/>
<polyline stroke="#169898" points="27.0,390.7 27.4,390.1 27.9,390.1 28.4,390.5 29.0,390.4 29.7,390.1 30.4,390.6 31.2,390.1 32.0,390.8 32.8,390.8 33.6,390.9 34.4,390.7 35.2,390.5 36.0,390.5 36.8,390.5 37.5,391.0 38.3,390.2 39.0,390.9 39.8,390.0 40.6,390.1 41.4,390.1 42.2,390.6 43.0,390.1 43.8,389.9 44.6,390.3 45.3,389.6 46.0,389.7 46.7,389.6 47.3,389.7 47.9,389.6 48.9,389.3 49.8,388.7 50.5,388.3 51.2,387.8 51.8,388.2 52.5,387.8 53.2,387.7 53.9,387.2 54.7,387.6 55.4,388.1 56.2,388.2 56.9,388.0 57.7,388.4 58.4,388.8 59.2,388.2 59.9,388.0 60.7,387.9 61.5,388.0 62.3,387.8 63.0,387.0 63.7,386.8 64.5,386.7 65.2,386.5 65.9,386.5 66.6,386.0 67.3,386.1 68.0,386.0 68.7,387.0 69.4,387.2 70.0,387.1 70.7,388.4 71.5,388.1 72.4,388.8 73.0,389.6 73.6,389.6 74.3,389.8 75.0,389.7 75.7,389.7 76.5,390.3 77.2,390.0 78.0,390.2 78.7,390.5 79.4,390.2 80.2,390.5 81.0,390.8 81.7,390.6 82.5,390.2 83.3,390.1 84.1,389.8 84.8,389.2 85.6,389.3 86.3,388.8 87.1,388.7 87.9,388.4 88.7,387.5 89.4,387.1 90.2,386.6 90.9,385.7 91.7,384.9 92.5,384.7 93.2,384.2 94.0,383.3 94.8,382.4 95.6,381.6 96.4,380.6 97.1,379.7 97.8,378.9 98.4,378.2 99.0,378.2 100.1,377.9 100.8,379.4 101.6,381.3 102.2,382.2 102.7,383.4 103.3,384.3 104.1,385.7 105.1,386.8 105.6,387.3 106.2,387.4 106.9,388.0 107.5,388.5 108.3,388.1 109.0,388.8 109.8,389.2 110.5,389.0 111.4,389.3 112.2,389.9 113.0,389.3 113.7,389.9 114.4,389.7 115.1,390.3 115.8,390.6 116.5,390.3 117.3,390.0 118.0,390.5 118.8,390.6 119.6,390.8 120.3,390.6 121.1,390.8 121.9,390.9 122.6,390.7 123.4,390.5 124.1,390.9 124.8,390.2 125.6,390.5 126.3,390.1 127.1,390.3 127.8,389.6 128.6,390.2 129.3,389.5 130.1,389.0 130.8,389.1 131.5,389.0 132.1,388.5 132.8,388.7 133.4,388.6 133.9,388.7 134.9,388.1 135.9,387.8 136.7,387.5 137.4,387.8 138.0,387.8 138.6,387.2 139.1,386.7 140.1,387.0 140.7,386.4 141.3,385.9 142.7,384.0 143.3,384.3 144.0,384.2 145.0,383.9 145.6,383.7 146.3,383.7 147.0,383.2 147.8,383.8 148.7,383.1 149.6,383.2 150.2,383.3 150.9,383.2 151.6,382.7 152.4,382.5 153.2,382.6 153.9,382.1 154.7,382.6 155.4,382.0 156.0,382.3 156.6,381.7 157.7,381.6 158.4,381.4 159.1,381.3 160.0,380.4 160.7,379.7 161.4,379.6 162.2,378.4 163.0,377.4 163.8,376.5 164.5,375.6 165.2,374.5 166.0,373.1 166.7,371.3 167.4,369.2 168.0,367.9 168.7,366.2 169.4,363.9 170.1,363.1 170.9,361.7 171.6,360.6 172.2,359.5 173.1,360.8 174.0,362.5 174.8,363.7 175.7,364.9 176.5,366.9 177.5,366.8 178.1,366.0 178.8,365.0 179.5,363.9 180.2,362.7 181.0,361.7 181.7,360.0 182.4,358.2 183.2,357.1 183.9,355.3 184.6,353.0 185.3,352.3 186.1,350.6 186.8,349.5 187.5,348.4 188.2,347.4 188.8,346.1 189.8,343.7 190.6,340.5 191.4,338.1 192.4,332.3 193.2,327.7 193.9,326.1 194.6,326.9 195.6,328.3 196.7,330.8 197.5,334.2 198.4,338.5 199.0,340.9 199.7,342.9 200.4,345.8 201.2,347.9 201.9,350.2 202.7,352.2 203.5,353.9 204.2,355.6 205.0,356.2 205.7,357.9 206.4,358.4 207.1,359.2 207.8,360.1 208.5,361.3 209.2,362.1 209.9,363.6 210.6,365.5 211.3,366.2 212.0,368.0 212.7,369.2 213.3,369.8 214.0,371.4 214.7,372.4 215.5,373.6 216.1,373.7 216.8,374.8 217.5,374.9 218.3,375.4 219.0,376.2 219.8,375.9 220.7,376.9 221.3,377.1 222.0,377.0 222.6,377.7 223.3,377.4 224.0,377.7 224.7,377.9 225.4,378.2 226.2,377.9 226.9,378.2 227.7,378.3 228.4,378.6 229.0,378.9 229.7,378.5 230.4,379.1 231.1,378.8 231.8,378.9 232.6,378.8 233.3,379.1 234.1,379.5 234.8,379.3 235.6,379.5 236.4,379.1 237.0,379.2 237.7,379.2 238.4,379.5 239.0,379.6 239.7,379.8 240.4,379.1 241.1,379.8 241.8,379.9 242.5,379.7 243.3,379.3 244.0,379.5 244.7,379.3 245.4,379.5 246.2,380.1 246.9,379.9 247.6,380.0 248.4,380.1 249.2,380.3 250.0,380.0 250.8,380.1 251.7,380.1 252.5,380.2 253.4,380.1 254.2,380.2 255.0,379.8 255.7,380.3 256.4,380.1 257.0,380.4 257.6,379.8 258.1,379.9 258.5,379.8"/>
<polyline stroke="#8c0c0c" points="27.0,411.9 27.4,412.1 27.9,411.8 28.5,411.5 29.1,411.9 29.8,411.9 30.6,411.7 31.4,411.4 32.2,411.4 33.0,411.5 33.8,411.3 34.6,411.4 35.4,411.6 36.1,411.8 36.8,411.0 37.5,411.4 38.2,410.8 38.9,410.8 39.6,411.4 40.3,411.1 41.0,411.4 41.7,410.9 42.4,410.4 43.1,410.7 43.8,410.8 44.5,411.1 45.2,411.0 46.0,410.5 46.8,410.4 47.6,410.0 48.4,410.4 49.2,410.0 50.0,409.8 50.8,409.6 51.5,409.6 52.3,410.1 53.0,409.5 53.7,410.3 54.3,409.4 55.3,410.1 56.1,409.5 56.9,409.4 57.6,410.1 58.3,409.7 59.0,410.1 59.6,409.5 60.4,409.1 61.2,409.4 61.9,408.9 62.6,408.6 63.4,408.1 64.1,407.3 64.8,407.6 65.6,407.4 66.4,407.1 67.1,407.4 67.9,406.9 68.6,407.7 69.4,407.9 70.1,407.7 70.9,408.1 71.7,409.2 72.5,409.7 73.2,409.3 73.9,409.7 74.6,410.3 75.4,410.1 76.2,410.9 77.0,410.7 77.7,410.4 78.5,410.8 79.3,411.0 80.0,410.8 80.8,410.9 81.5,410.3 82.3,410.7 83.1,410.1 83.8,410.1 84.6,409.9 85.4,409.5 86.2,409.2 87.0,409.3 87.8,409.2 88.6,408.7 89.3,408.2 90.0,407.7 90.6,407.2 91.5,407.6 92.1,407.0 92.7,406.6 93.5,405.3 94.2,404.9 95.0,404.2 95.8,403.0 96.7,401.8 97.6,400.5 98.4,399.9 99.0,399.8 100.0,399.6 100.6,401.1 101.3,402.4 102.1,404.1 103.0,405.7 104.1,406.6 104.7,406.9 105.4,407.6 106.2,408.1 107.0,408.6 107.8,409.1 108.7,409.4 109.4,408.9 110.1,409.8 110.8,409.9 111.5,410.1 112.3,410.0 113.1,409.8 113.9,410.5 114.7,410.6 115.4,410.6 116.1,410.9 116.9,410.6 117.6,410.5 118.4,411.0 119.2,411.4 120.0,410.9 120.8,411.5 121.5,411.8 122.3,411.2 123.1,411.5 123.8,411.5 124.6,411.3 125.3,411.0 126.1,410.9 126.9,411.3 127.6,411.2 128.4,410.8 129.1,410.3 129.9,410.9 130.7,410.7 131.5,410.1 132.3,410.3 133.1,410.4 134.0,410.3 134.8,409.8 135.5,409.6 136.3,409.6 136.9,409.1 137.5,409.0 138.7,408.8 139.5,409.2 140.2,408.8 140.8,408.7 141.6,407.3 142.4,406.2 143.1,405.6 143.9,405.3 145.0,406.0 145.6,405.4 146.3,405.1 147.0,405.5 147.8,405.5 148.6,404.8 149.6,405.1 150.3,404.8 151.0,404.8 151.7,404.3 152.6,404.2 153.4,405.0 154.2,404.8 155.0,404.3 155.8,404.2 156.5,403.8 157.2,404.1 158.2,403.4 159.1,403.5 159.9,402.9 160.6,402.4 161.3,402.0 162.0,400.6 162.9,398.9 163.7,397.3 164.4,395.4 165.2,393.4 165.9,392.0 166.6,391.1 167.3,389.9 168.0,388.2 168.7,387.2 169.4,385.6 170.1,383.0 170.9,381.8 171.6,380.3 172.2,379.5 173.1,381.2 174.0,382.9 174.8,385.2 175.7,386.7 176.6,388.1 177.5,387.9 178.4,385.7 179.2,382.7 180.1,379.5 180.9,377.8 181.8,375.4 182.7,372.6 183.4,371.4 184.1,370.7 184.8,369.9 185.5,369.6 186.2,368.9 187.1,367.9 188.0,366.5 188.8,366.2 189.7,364.7 190.6,362.9 191.4,361.0 192.4,354.9 193.2,350.7 194.0,351.8 194.9,354.1 195.8,355.1 196.7,356.1 197.5,358.1 198.4,360.8 199.2,362.9 200.0,366.3 201.0,369.2 201.6,370.6 202.3,372.5 203.1,373.6 203.8,375.0 204.5,376.1 205.2,377.5 205.9,377.6 206.6,378.8 207.3,379.1 208.0,380.1 208.8,382.5 209.6,383.8 210.4,386.5 211.2,388.4 212.0,390.1 212.7,390.8 213.4,392.3 214.0,392.9 214.7,394.6 215.5,395.3 216.1,395.6 216.8,395.9 217.5,396.2 218.3,397.0 219.0,397.0 219.8,397.4 220.7,397.3 221.3,397.5 222.0,397.6 222.6,398.3 223.3,398.3 224.0,398.1 224.7,398.9 225.4,398.5 226.2,398.7 226.9,398.6 227.7,398.8 228.4,399.4 229.0,399.0 229.7,398.9 230.4,399.3 231.1,399.2 231.8,399.8 232.6,399.1 233.3,399.9 234.1,399.2 234.8,400.0 235.6,399.8 236.4,399.4 237.0,399.7 237.7,399.6 238.4,399.6 239.0,399.6 239.7,399.8 240.4,400.4 241.1,400.4 241.8,400.4 242.5,399.7 243.3,399.9 244.0,400.4 244.7,399.7 245.4,400.3 246.2,400.0 246.9,400.6 247.6,399.8 248.4,400.5 249.2,400.1 250.0,400.0 250.8,399.9 251.7,400.7 252.5,400.4 253.4,400.1 254.2,400.4 255.0,400.9 255.7,400.3 256.4,400.6 257.0,400.2 257.6,400.3 258.1,400.8 258.5,400.8"/>
<polyline stroke="#8a22f0" points="27.0,432.3 27.4,432.2 27.9,432.2 28.5,432.6 29.1,432.5 29.8,432.3 30.6,432.2 31.4,432.5 32.2,432.6 33.0,432.6 33.8,432.4 34.6,432.0 35.4,431.8 36.1,432.3 36.8,431.9 37.5,432.1 38.2,431.4 38.9,432.0 39.6,431.4 40.3,431.8 41.0,431.7 41.7,431.2 42.4,430.6 43.1,431.3 43.8,430.8 44.5,431.0 45.2,430.4 46.0,430.2 46.8,430.7 47.6,430.2 48.4,429.9 49.2,430.0 50.0,430.1 50.8,429.5 51.5,429.9 52.3,429.7 53.0,429.7 53.7,429.3 54.3,429.7 55.3,429.6 56.1,429.5 56.9,428.8 57.6,429.0 58.3,428.4 59.0,428.5 59.6,427.6 60.5,427.8 61.3,427.3 62.0,426.2 62.7,425.6 63.4,425.0 64.3,424.2 65.1,422.9 65.9,423.0 66.7,422.2 67.4,422.4 68.1,423.0 68.8,424.0 69.5,425.3 70.2,425.4 70.9,426.1 71.5,427.3 72.2,427.5 73.0,427.9 74.0,428.9 74.6,429.1 75.3,429.2 76.0,429.5 76.8,429.1 77.6,429.9 78.4,429.8 79.2,429.3 80.0,429.4 80.8,429.8 81.5,429.8 82.3,429.6 83.2,429.4 83.9,429.6 84.7,429.2 85.5,429.5 86.2,429.6 86.9,428.7 87.6,428.9 88.4,428.7 89.0,428.0 89.7,428.3 90.4,428.0 91.0,427.0 91.7,426.5 92.5,426.1 93.2,424.9 94.1,423.6 94.9,422.8 95.8,421.3 96.6,419.6 97.4,418.3 98.2,417.4 98.8,416.9 99.8,417.2 100.5,417.6 101.1,418.8 101.8,420.0 102.5,421.2 103.3,422.0 104.0,424.0 104.8,425.8 105.6,426.9 106.4,426.9 107.1,427.4 107.9,427.8 108.6,427.7 109.4,428.0 110.1,427.8 110.9,428.2 111.6,428.4 112.4,428.1 113.2,428.5 113.9,429.5 114.7,429.7 115.5,430.3 116.2,430.4 117.0,431.0 117.8,431.4 118.5,431.8 119.2,431.4 119.9,432.3 120.6,432.3 121.4,433.0 122.3,432.8 122.9,433.1 123.6,433.5 124.4,433.2 125.1,432.8 125.9,433.0 126.7,432.9 127.5,433.3 128.3,432.6 129.1,432.5 129.9,432.7 130.7,432.2 131.5,432.5 132.3,432.7 133.1,432.1 133.9,431.7 134.7,431.8 135.5,431.7 136.2,431.1 136.9,430.9 137.5,430.8 138.5,430.5 139.4,430.2 140.1,429.7 140.7,429.2 141.2,428.7 142.1,428.2 142.8,427.9 143.1,428.3 144.3,428.9 144.8,428.9 145.4,428.5 146.1,429.0 146.9,428.7 147.7,428.7 148.6,428.7 149.5,428.5 150.3,428.3 151.1,428.1 151.9,427.9 152.6,428.0 153.5,427.6 154.4,427.5 155.2,426.6 156.0,426.5 156.8,426.5 157.5,425.5 158.1,425.4 158.7,425.0 159.7,424.2 160.2,424.2 161.0,422.3 161.7,421.4 162.5,419.1 163.4,417.2 164.3,416.0 165.1,413.8 166.0,411.5 166.8,409.8 167.6,407.9 168.5,406.4 169.3,404.4 170.1,403.1 170.9,402.5 171.6,401.3 172.3,400.3 173.1,401.0 173.8,402.7 174.5,404.7 175.3,406.4 176.2,408.4 177.1,409.1 178.0,407.5 178.8,405.3 179.6,403.0 180.5,400.7 181.3,397.7 181.9,394.9 182.7,391.4 183.6,388.9 184.2,387.5 184.9,387.9 185.7,387.1 186.5,387.7 187.2,387.4 187.9,386.8 188.7,386.2 189.4,384.6 190.2,383.0 190.8,381.7 191.4,380.1 192.4,374.6 193.2,370.1 193.9,369.5 194.9,371.1 195.5,372.5 196.1,373.8 196.8,375.8 197.6,377.9 198.4,379.7 199.1,381.2 199.8,383.2 200.5,384.8 201.3,386.1 202.0,387.7 202.8,389.1 203.6,390.9 204.4,392.5 205.2,394.6 206.0,396.4 206.7,397.8 207.5,400.4 208.2,401.8 209.0,404.3 209.7,406.3 210.4,408.4 211.1,409.6 211.8,411.4 212.6,413.6 213.3,414.3 214.0,415.7 214.8,417.3 215.6,418.2 216.3,419.2 217.0,419.6 217.7,419.7 218.4,420.4 219.3,420.2 220.2,420.5 220.8,420.8 221.5,420.7 222.2,420.8 223.0,421.2 223.8,421.1 224.6,421.7 225.4,421.6 226.1,421.5 226.9,421.2 227.7,421.6 228.4,421.7 229.2,421.9 229.9,422.0 230.7,422.4 231.4,422.5 232.1,422.2 232.9,422.2 233.7,422.4 234.5,422.8 235.3,422.3 236.0,422.5 236.7,422.8 237.4,422.2 238.0,422.4 238.7,423.0 239.4,422.9 240.2,422.6 240.9,422.3 241.7,423.0 242.6,422.8 243.5,423.0 244.4,423.1 245.0,423.1 245.7,422.7 246.4,422.4 247.1,422.6 247.9,422.8 248.7,422.8 249.5,422.5 250.4,422.5 251.2,423.0 252.0,423.0 252.8,422.8 253.6,423.3 254.4,423.0 255.1,422.5 255.8,422.9 256.5,423.2 257.1,422.8 257.6,423.2 258.1,422.5 258.5,422.8"/>
<polyline stroke="#fa1ef8" points="27.0,453.3 27.4,453.0 27.9,453.1 28.5,452.6 29.1,452.9 29.8,452.9 30.6,452.6 31.4,452.8 32.2,452.7 33.0,453.0 33.8,452.6 34.6,452.4 35.4,452.0 36.1,452.0 36.8,452.4 37.5,451.8 38.2,451.7 38.9,451.6 39.6,451.8 40.3,452.0 41.0,451.7 41.7,451.7 42.4,450.9 43.1,450.8 43.8,451.3 44.5,450.8 45.2,451.0 46.0,450.5 46.8,450.2 47.6,450.1 48.4,449.7 49.2,450.3 50.0,449.8 50.8,449.4 51.5,449.3 52.3,449.1 53.0,448.6 53.7,449.3 54.3,448.9 55.3,449.1 56.1,448.6 56.9,448.8 57.6,448.6 58.3,448.4 59.0,449.1 59.6,448.8 60.5,447.8 61.3,447.6 62.0,446.7 62.7,445.3 63.4,444.8 64.3,444.1 65.1,442.5 65.9,442.0 66.7,441.0 67.4,441.4 68.1,442.3 68.8,442.7 69.5,443.7 70.2,445.0 70.9,445.4 71.5,446.5 72.2,446.7 73.0,447.4 74.0,448.1 74.6,448.1 75.3,449.0 76.0,448.5 76.8,448.9 77.6,448.6 78.4,449.1 79.2,449.0 80.0,449.1 80.8,448.8 81.5,448.9 82.3,449.5 83.1,449.1 83.9,449.0 84.7,448.9 85.4,448.9 86.2,448.7 86.9,448.3 87.6,448.6 88.4,448.0 89.1,447.5 89.8,447.6 90.5,446.5 91.2,446.1 91.9,445.9 92.7,444.5 93.4,444.0 94.1,443.3 94.9,442.2 95.8,440.5 96.6,439.5 97.3,438.7 98.1,437.5 98.7,437.3 99.3,436.1 100.4,436.8 101.0,437.7 101.8,439.2 102.5,440.6 103.2,441.7 104.0,443.8 104.8,444.9 105.6,446.6 106.4,447.0 107.1,447.3 107.9,447.5 108.6,448.1 109.4,447.9 110.1,448.6 110.9,447.9 111.6,448.1 112.4,448.1 113.2,448.0 113.9,448.7 114.7,448.8 115.5,449.5 116.2,450.0 117.0,450.2 117.8,450.7 118.5,450.8 119.2,451.1 119.9,452.0 120.6,451.8 121.4,452.3 122.3,451.9 122.9,452.5 123.6,452.4 124.4,452.6 125.1,452.5 125.9,452.3 126.7,452.6 127.5,452.5 128.3,452.4 129.1,453.0 129.9,452.5 130.7,452.5 131.5,452.8 132.3,452.5 133.1,452.5 133.9,452.2 134.7,451.3 135.5,451.2 136.2,450.8 136.9,451.2 137.5,450.9 138.5,450.3 139.4,450.0 140.1,449.9 140.7,449.5 141.2,448.6 142.5,445.5 143.0,446.7 144.3,448.9 144.8,448.6 145.4,448.6 146.2,449.4 146.9,449.2 147.8,449.1 148.6,448.4 149.5,448.3 150.3,448.3 151.1,448.2 151.9,448.2 152.6,448.1 153.5,447.5 154.4,447.5 155.2,447.4 156.1,446.6 156.8,446.9 157.5,446.2 158.2,446.0 158.7,445.3 159.7,444.8 160.5,443.7 161.1,442.4 161.9,440.8 162.7,440.1 163.6,438.5 164.4,436.5 165.1,434.9 166.0,433.6 166.8,431.4 167.7,428.9 168.5,427.4 169.3,426.0 170.1,425.3 170.9,423.7 171.6,423.4 172.3,422.7 173.1,422.1 173.8,423.3 174.5,424.1 175.3,426.2 176.2,428.4 177.1,428.7 177.9,427.1 178.8,425.0 179.6,421.5 180.5,418.8 181.3,415.1 182.2,412.4 183.1,410.8 183.9,409.6 184.8,408.8 185.6,408.2 186.4,408.8 187.3,407.8 188.1,406.3 189.0,404.5 189.9,401.3 190.7,399.6 191.7,396.0 192.6,393.6 193.3,391.5 194.5,389.4 195.1,390.2 195.8,391.7 196.7,392.7 197.4,393.6 198.3,394.4 199.1,395.5 200.1,397.6 200.8,399.2 201.6,400.8 202.3,402.9 203.1,404.8 203.9,407.3 204.6,409.2 205.5,411.4 206.4,413.9 207.2,416.7 208.0,419.2 208.7,421.7 209.4,423.4 210.1,425.6 210.8,428.2 211.5,429.4 212.2,431.4 212.9,432.7 213.7,434.4 214.5,435.4 215.3,436.7 216.0,437.1 216.8,438.4 217.5,439.2 218.3,439.8 219.2,440.7 220.2,441.2 220.8,440.7 221.5,441.0 222.3,441.2 223.0,441.0 223.8,440.9 224.6,441.1 225.4,441.0 226.2,441.4 226.9,441.1 227.7,440.9 228.4,441.1 229.2,441.3 229.9,441.2 230.7,441.1 231.4,441.0 232.1,441.0 232.9,442.0 233.7,441.8 234.5,441.3 235.3,441.9 236.0,442.2 236.7,441.9 237.4,441.5 238.0,441.9 238.7,441.9 239.4,441.8 240.2,442.2 240.9,441.7 241.7,442.6 242.6,442.4 243.5,442.5 244.4,442.8 245.0,442.6 245.7,442.2 246.4,442.3 247.1,442.2 247.9,442.1 248.7,442.8 249.5,442.9 250.4,442.5 251.2,442.4 252.0,442.8 252.8,443.0 253.6,443.1 254.4,442.5 255.1,443.0 255.8,443.1 256.5,443.1 257.1,442.7 257.6,442.6 258.1,443.2 258.5,442.7"/>
<polyline stroke="#ff1414" points="27.0,474.1 27.4,474.2 27.9,473.9 28.5,474.3 29.1,473.6 29.8,473.3 30.6,473.7 31.4,473.6 32.2,473.6 33.0,473.4 33.8,473.4 34.6,473.3 35.4,472.8 36.1,472.7 36.8,472.3 37.5,472.3 38.3,472.4 39.1,471.9 39.8,472.3 40.6,471.7 41.3,471.8 42.0,472.2 42.7,471.3 43.4,471.1 44.1,471.4 44.7,471.0 45.2,471.4 46.2,470.5 47.0,471.1 47.7,470.9 48.4,470.7 49.0,470.1 49.7,469.8 50.5,469.9 51.2,469.5 52.0,469.1 52.7,468.8 53.5,468.6 54.3,468.6 55.0,468.7 55.8,468.8 56.6,468.2 57.4,468.3 58.2,468.5 58.9,468.5 59.6,468.1 60.5,467.4 61.3,466.5 62.0,465.8 62.7,465.1 63.4,464.8 64.3,463.9 65.1,463.0 65.9,462.4 66.7,462.2 67.4,462.2 68.1,463.0 68.8,463.2 69.5,464.6 70.2,465.3 70.9,465.7 71.5,466.7 72.2,467.8 73.0,468.0 74.0,468.6 74.6,468.5 75.3,468.7 76.0,469.3 76.8,468.7 77.6,468.9 78.4,469.4 79.2,469.3 80.0,469.0 80.8,469.5 81.5,469.3 82.3,469.5 83.1,469.3 83.9,469.3 84.7,469.3 85.4,469.0 86.2,468.6 86.9,468.5 87.6,468.9 88.4,468.2 89.1,467.5 89.8,467.8 90.5,466.7 91.2,466.1 92.0,465.8 92.8,464.8 93.5,464.2 94.2,463.3 95.0,462.0 95.8,461.1 96.6,459.6 97.4,458.9 98.1,458.0 98.7,456.9 99.3,456.7 100.4,456.5 101.0,458.2 101.8,460.1 102.5,460.8 103.2,462.1 104.0,463.3 104.8,463.9 105.6,465.6 106.3,466.2 107.1,466.4 107.8,467.6 108.6,467.7 109.4,467.9 110.1,468.8 110.9,468.4 111.7,468.5 112.4,467.8 113.2,468.4 114.0,467.8 114.7,468.2 115.5,468.7 116.2,468.8 116.9,469.7 117.7,469.8 118.5,470.3 119.2,471.0 119.9,471.1 120.7,471.9 121.4,472.0 122.2,472.5 123.0,472.5 123.8,473.1 124.5,473.2 125.2,472.7 126.0,473.4 126.7,473.2 127.5,473.6 128.3,473.6 129.1,473.8 129.9,473.2 130.6,473.4 131.4,473.6 132.2,473.8 133.0,473.5 133.9,472.7 134.7,473.1 135.5,472.5 136.2,472.8 136.9,472.8 137.5,472.1 138.5,472.4 139.3,471.6 140.0,470.7 140.6,470.1 141.2,470.0 142.0,469.8 142.6,469.2 143.5,468.6 144.1,468.5 144.9,468.6 145.7,469.4 146.5,468.9 147.3,469.4 148.1,469.2 148.8,469.6 149.5,469.5 150.3,469.3 151.0,470.0 151.8,469.6 152.6,469.6 153.3,469.4 154.1,469.2 154.9,468.0 155.7,467.8 156.5,467.2 157.3,467.0 158.1,466.8 158.7,466.2 159.7,464.3 160.5,463.2 161.3,462.3 162.0,460.8 162.8,458.9 163.5,457.3 164.3,455.3 165.1,454.3 165.9,452.4 166.8,451.3 167.6,449.6 168.5,447.7 169.3,446.8 170.1,445.4 170.9,444.8 171.6,443.6 172.3,442.6 173.1,442.9 173.8,444.1 174.5,445.5 175.3,447.3 176.2,449.2 177.1,449.7 177.9,447.5 178.8,444.7 179.6,441.1 180.5,437.2 181.3,433.9 182.2,431.4 183.1,429.1 183.9,428.5 184.8,428.6 185.6,428.2 186.5,428.5 187.3,428.4 188.2,427.1 189.0,425.7 189.9,423.3 190.8,420.1 191.7,415.8 192.5,411.8 193.4,410.7 194.2,411.0 195.0,412.4 195.9,414.1 196.6,415.1 197.5,416.2 198.4,417.2 199.2,418.0 200.0,419.3 200.9,420.5 201.8,422.0 202.5,423.3 203.2,424.7 203.8,427.0 204.6,429.1 205.3,431.0 206.1,433.4 207.0,435.7 207.8,438.5 208.7,440.8 209.5,442.6 210.4,444.9 211.3,446.6 212.2,448.7 212.9,449.8 213.9,453.2 215.0,456.4 215.6,457.5 216.4,458.8 217.1,459.7 217.9,460.4 218.6,461.7 219.4,461.5 220.2,461.2 220.9,460.9 221.7,460.4 222.5,460.3 223.2,460.2 224.0,460.6 224.7,460.7 225.3,461.4 225.9,461.5 226.6,462.2 227.7,462.0 228.3,462.5 228.9,462.3 229.6,461.9 230.3,462.0 231.1,462.4 231.9,462.8 232.8,462.2 233.6,462.6 234.5,462.3 235.3,462.7 236.0,462.0 236.7,462.4 237.4,462.8 238.0,462.3 238.7,462.3 239.4,462.1 240.2,462.2 240.9,462.4 241.7,462.8 242.6,462.3 243.5,462.5 244.4,462.3 245.0,462.7 245.7,462.9 246.4,462.7 247.1,462.3 247.9,462.8 248.7,463.0 249.5,462.6 250.4,462.2 251.2,462.8 252.0,462.9 252.8,462.4 253.6,462.2 254.4,462.2 255.1,462.5 255.8,462.8 256.5,462.6 257.1,462.8 257.6,462.2 258.1,462.3 258.5,462.6"/>
</g>
<text x="27.5" y="488.6" text-anchor="middle" font-family="'Liberation Serif','Times New Roman',serif" font-weight="bold" font-size="11">50</text>
<text x="60.5" y="488.6" text-anchor="middle" font-family="'Liberation Serif','Times New Roman',serif" font-weight="bold" font-size="11">100</text>
<text x="93.5" y="488.6" text-anchor="middle" font-family="'Liberation Serif','Times New Roman',serif" font-weight="bold" font-size="11">150</text>
<text x="126.5" y="488.6" text-anchor="middle" font-family="'Liberation Serif','Times New Roman',serif" font-weight="bold" font-size="11">200</text>
<text x="159.5" y="488.6" text-anchor="middle" font-family="'Liberation Serif','Times New Roman',serif" font-weight="bold" font-size="11">250</text>
<text x="192.5" y="488.6" text-anchor="middle" font-family="'Liberation Serif','Times New Roman',serif" font-weight="bold" font-size="11">300</text>
<text x="225.5" y="488.6" text-anchor="middle" font-family="'Liberation Serif','Times New Roman',serif" font-weight="bold" font-size="11">350</text>
<text x="258.5" y="488.6" text-anchor="middle" font-family="'Liberation Serif','Times New Roman',serif" font-weight="bold" font-size="11">400</text>
<text x="98.4" y="505.2" font-family="'Liberation Serif','Times New Roman',serif" font-weight="bold" font-size="11">Raman Shift (cm<tspan font-size="7" dy="-4">-1</tspan><tspan dy="4">)</tspan></text>
<text transform="translate(18.6,363.0) rotate(-90)" x="-33.6" textLength="67.2" lengthAdjust="spacingAndGlyphs" font-family="'Liberation Serif','Times New Roman',serif" font-weight="bold" font-size="11.6">Intensity (a.u.)</text>
<text transform="translate(1.5,244.8) scale(1,1.11)" font-family="'Liberation Serif','Times New Roman',serif" font-weight="bold" font-size="14">c</text>
<text x="38.9" y="251.0" font-family="'Liberation Sans',Arial,sans-serif" font-weight="bold" font-size="16" stroke="#000" stroke-width="0.25">2L</text>
<g font-family="'Liberation Sans',Arial,sans-serif" font-size="11.9" fill="#000" stroke="#000" stroke-width="0.3" text-anchor="end">
<text x="256.2" y="276.9">300K</text>
<text x="255.0" y="306.7">260K</text>
<text x="257.0" y="330.5">200K</text>
<text x="255.7" y="353.0">140K</text>
<text x="256.6" y="373.7">100K</text>
<text x="256.0" y="395.3">70K</text>
<text x="256.1" y="415.7">50K</text>
<text x="256.2" y="436.8">30K</text>
<text x="256.2" y="457.0">10K</text>
</g>
<g font-family="'Liberation Sans',Arial,sans-serif" font-size="15.5" font-weight="bold" text-anchor="middle">
<text x="54.2" y="468.4">*</text><text x="114.1" y="468.4">*</text>
</g>
</svg></body></html>
